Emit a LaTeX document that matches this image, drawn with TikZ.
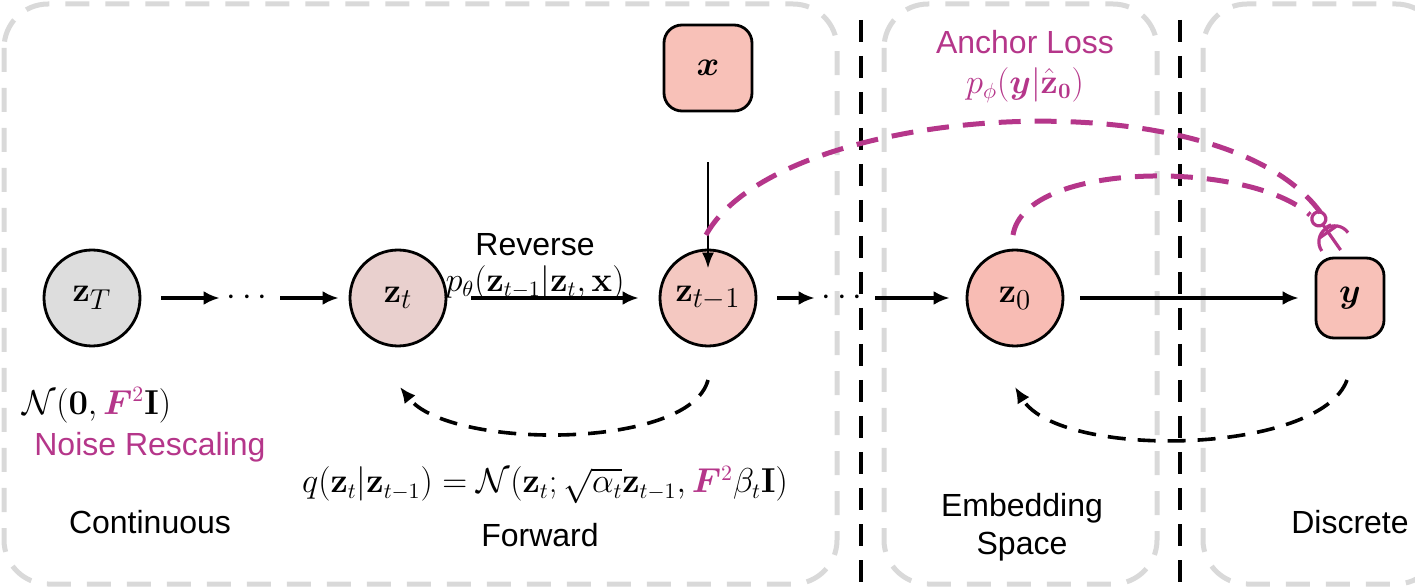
\documentclass[tikz,border=0pt]{standalone}
\usepackage{amsmath,amssymb,bm}
\usepackage[no-math]{fontspec}
\setmainfont{Liberation Sans}
\usetikzlibrary{arrows.meta,shapes.geometric}
\definecolor{mag}{HTML}{B5368A}
\definecolor{panel}{HTML}{D9D9D9}
\definecolor{boxfill}{HTML}{F8C1B8}
\definecolor{fT}{HTML}{DDDDDD}
\definecolor{ft}{HTML}{E9D0CE}
\definecolor{ftm}{HTML}{F4C8C1}
\definecolor{fz}{HTML}{F8BCB4}
\tikzset{
  x=0.5pt, y=-0.5pt,
  every node/.style={font=\fontsize{16}{19}\selectfont},
  panel/.style={draw=panel, line width=2.5pt, dash pattern=on 12pt off 8pt, rounded corners=22pt},
  sep/.style={draw=black, line width=1.6pt, dash pattern=on 11pt off 7pt},
  var/.style={circle, draw, line width=1.4pt, minimum size=48pt, inner sep=0pt, font=\fontsize{19}{22}\selectfont},
  obs/.style={rectangle, rounded corners=9pt, draw, line width=1.4pt, fill=boxfill, inner sep=0pt, font=\fontsize{19}{22}\selectfont},
  fwd/.style={-{Latex[length=8pt,width=7pt]}, line width=1.8pt},
  back/.style={-{Latex[length=8pt,width=7pt]}, line width=1.8pt, dash pattern=on 9pt off 6pt},
  anch/.style={mag, line width=2.5pt, dash pattern=on 11pt off 7pt},
  lbl/.style={font=\fontsize{16}{19}\selectfont}
}
\begin{document}
\begin{tikzpicture}
\useasboundingbox (0,0) rectangle (1415,588);
% panels
\draw[panel] (4,4) rectangle (837,584);
\draw[panel] (884,4) rectangle (1157,584);
\draw[panel] (1203,4) rectangle (1440,584);
\draw[sep] (861,20) -- (861,584);
\draw[sep] (1180,20) -- (1180,584);
% nodes
\node[var, fill=fT] (zT) at (92,298) {$\mathbf{z}_T$};
\node[var, fill=ft] (zt) at (398,298) {$\mathbf{z}_t$};
\node[var, fill=ftm] (ztm) at (708,298) {$\mathbf{z}_{t-1}$};
\node[var, fill=fz] (z0) at (1015,298) {$\mathbf{z}_0$};
\node[obs, minimum width=44pt, minimum height=43pt] (x) at (708,68) {$\bm{x}$};
\node[obs, minimum width=34pt, minimum height=40pt] (y) at (1350,298) {$\bm{y}$};
\node[inner sep=0pt, minimum width=30pt, minimum height=10pt] (d1) at (250,298) {$\cdots$};
\node[inner sep=0pt, minimum width=30pt, minimum height=10pt] (d2) at (845,298) {$\cdots$};
% forward chain
\draw[fwd] ([xshift=10pt]zT.east) -- (d1);
\draw[fwd] (d1) -- ([xshift=-5pt]zt.west);
\draw[fwd] ([xshift=12pt]zt.east) -- ([xshift=-10pt]ztm.west);
\draw[fwd] ([xshift=10pt]ztm.east) -- (d2);
\draw[fwd] (d2) -- ([xshift=-8pt]z0.west);
\draw[fwd] ([xshift=8pt]z0.east) -- ([xshift=-8pt]y.west);
\draw[-{Latex[length=8pt,width=6pt]}, line width=1.3pt] ([yshift=-25pt]x.south) -- ([yshift=-10pt]ztm.north);
% backward
\coordinate (b1) at (708,380);
\coordinate (b2) at (400,387);
\draw[back] (b1) .. controls (690,450) and (450,450) .. (b2);
\coordinate (b3) at (1347,380);
\coordinate (b4) at (1015,387);
\draw[back] (b3) .. controls (1320,455) and (1060,460) .. (b4);
% anchor loss
\coordinate (a1) at (706,235);
\coordinate (a2) at (1330,228);
\draw[anch] (a1) .. controls (780,100) and (1250,70) .. (a2);
\coordinate (a3) at (1013,235);
\coordinate (a4) at (1310,215);
\draw[anch] (a3) .. controls (1025,160) and (1250,160) .. (a4);
% anchor symbol
\begin{scope}[shift={(1328,232)}, rotate=35, mag, line width=1.6pt]
  \draw (0,-16) circle (3.5pt);
  \draw (0,-9) -- (0,22);
  \draw (-10,0) -- (10,0);
  \draw (-16,12) arc (180:360:16);
\end{scope}
% labels
\node[lbl] (rev) at (535,245) {Reverse};
\node[lbl] (pt) at (535,283) {$p_\theta(\mathbf{z}_{t-1}|\mathbf{z}_t,\mathbf{x})$};
\node[lbl] (nz) at (97,405) {$\mathcal{N}(\mathbf{0},{\color{mag}\bm{F}^2}\mathbf{I})$};
\node[lbl, mag] (nr) at (150,447) {Noise Rescaling};
\node[lbl] (cont) at (150,522) {Continuous};
\node[lbl] (q) at (545,485) {$q(\mathbf{z}_t|\mathbf{z}_{t-1})=\mathcal{N}(\mathbf{z}_t;\sqrt{\alpha_t}\mathbf{z}_{t-1},{\color{mag}\bm{F}^2}\beta_t\mathbf{I})$};
\node[lbl] (fw) at (540,535) {Forward};
\node[lbl, align=center] (emb) at (1022,527) {Embedding\\Space};
\node[lbl] (disc) at (1350,522) {Discrete};
\node[lbl, mag] (al) at (1025,42) {Anchor Loss};
\node[lbl, mag] (pp) at (1025,85) {$p_\phi(\bm{y}|\hat{\mathbf{z}}_{\mathbf{0}})$};
\end{tikzpicture}
\end{document}
